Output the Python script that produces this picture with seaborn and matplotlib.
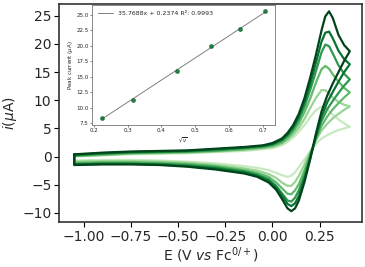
import numpy as np
import pandas as pd
import matplotlib
matplotlib.use("Agg")
import matplotlib.pyplot as plt
import seaborn as sns

# scan rates (V/s) -> sqrt used in the inset
scan_rates = [0.05, 0.1, 0.2, 0.3, 0.4, 0.5]
sqrt_rate = [0.2236, 0.3162, 0.4472, 0.5477, 0.6325, 0.7071]
peak_current = [8.3, 11.3, 16.0, 19.9, 22.7, 25.6]

# forward sweep potentials and currents (uA)
E_fwd = [-1.05, -0.9, -0.75, -0.6, -0.45, -0.3, -0.15, -0.05, 0.0, 0.05, 0.08, 0.11,
         0.14, 0.17, 0.2, 0.23, 0.26, 0.28, 0.30, 0.32, 0.35, 0.38, 0.41]
i_fwd_1 = [0.0, 0.2, 0.4, 0.5, 0.6, 0.8, 1.0, 1.3, 1.5, 2.0, 2.6, 3.4, 4.4, 5.6, 7.0, 8.2, 8.9, 8.7, 8.1, 7.4, 6.6, 5.9, 5.3]
i_fwd_2 = [0.1, 0.3, 0.5, 0.6, 0.7, 0.9, 1.2, 1.5, 1.7, 2.3, 3.0, 3.9, 5.1, 6.7, 8.6, 10.4, 11.8, 11.8, 11.2, 10.5, 9.7, 9.2, 8.9]
i_fwd_3 = [0.1, 0.3, 0.6, 0.7, 0.8, 1.0, 1.3, 1.6, 1.9, 2.5, 3.3, 4.4, 5.9, 7.9, 10.3, 13.1, 15.5, 16.1, 15.6, 14.6, 13.3, 12.2, 11.4]
i_fwd_4 = [0.2, 0.5, 0.7, 0.8, 0.9, 1.1, 1.5, 1.8, 2.1, 2.8, 3.7, 4.9, 6.6, 8.9, 11.8, 15.1, 18.5, 19.9, 19.6, 18.3, 16.2, 14.7, 13.7]
i_fwd_5 = [0.3, 0.6, 0.8, 0.9, 1.0, 1.3, 1.6, 1.9, 2.2, 3.0, 3.9, 5.2, 7.1, 9.7, 12.9, 16.6, 20.4, 22.0, 22.2, 21.0, 18.8, 17.3, 16.4]
i_fwd_6 = [0.4, 0.7, 0.9, 1.0, 1.1, 1.4, 1.7, 2.0, 2.4, 3.2, 4.2, 5.6, 7.6, 10.4, 14.0, 18.0, 22.4, 24.9, 25.8, 24.6, 21.6, 19.8, 18.7]

# reverse sweep
E_rev = [0.41, 0.38, 0.35, 0.32, 0.29, 0.26, 0.23, 0.2, 0.17, 0.14, 0.12, 0.10, 0.08, 0.05,
         0.02, -0.02, -0.08, -0.15, -0.3, -0.45, -0.6, -0.75, -0.9, -1.05]
i_rev_1 = [5.3, 5.0, 4.7, 4.3, 3.8, 3.2, 2.2, 0.9, -0.5, -1.9, -2.8, -3.4, -3.6, -3.3, -2.9, -2.4, -2.0, -1.7, -1.2, -0.9, -0.7, -0.6, -0.6, -0.7]
i_rev_2 = [8.9, 8.3, 7.6, 6.8, 5.8, 4.6, 2.9, 0.8, -1.4, -3.4, -4.5, -5.2, -5.2, -4.6, -3.8, -3.1, -2.5, -2.1, -1.5, -1.1, -0.9, -0.8, -0.8, -0.9]
i_rev_3 = [11.4, 10.5, 9.5, 8.4, 7.1, 5.4, 3.0, 0.4, -2.4, -4.9, -6.0, -6.7, -6.6, -5.6, -4.6, -3.6, -2.9, -2.4, -1.7, -1.3, -1.1, -1.0, -1.0, -1.1]
i_rev_4 = [13.7, 12.6, 11.3, 9.9, 8.4, 6.3, 3.3, 0.0, -3.3, -6.0, -7.3, -8.0, -7.8, -6.5, -5.2, -4.0, -3.2, -2.6, -1.9, -1.5, -1.3, -1.2, -1.2, -1.3]
i_rev_5 = [16.4, 15.0, 13.3, 11.5, 9.6, 7.1, 3.6, -0.3, -4.0, -7.0, -8.3, -8.8, -8.4, -6.9, -5.5, -4.3, -3.4, -2.8, -2.1, -1.7, -1.4, -1.3, -1.3, -1.4]
i_rev_6 = [18.7, 17.0, 15.0, 13.0, 10.8, 8.0, 4.0, -0.5, -4.5, -7.8, -9.2, -9.7, -9.2, -7.5, -5.9, -4.6, -3.6, -3.0, -2.3, -1.8, -1.5, -1.4, -1.4, -1.5]

fwd = [i_fwd_1, i_fwd_2, i_fwd_3, i_fwd_4, i_fwd_5, i_fwd_6]
rev = [i_rev_1, i_rev_2, i_rev_3, i_rev_4, i_rev_5, i_rev_6]

frames = []
for rate, f, r in zip(scan_rates, fwd, rev):
    E = E_fwd + E_rev + [E_fwd[0]]
    cur = f + r + [f[0]]
    frames.append(pd.DataFrame({"E": E, "i": cur, "rate": rate}))
df = pd.concat(frames, ignore_index=True)

sns.set_theme(style="ticks")
plt.rcParams["font.family"] = ["DejaVu Sans"]

fig = plt.figure(figsize=(3.65, 2.67), dpi=100)
ax = fig.add_axes([0.162, 0.169, 0.83, 0.816])

colors = [plt.cm.Greens(v) for v in np.linspace(0.25, 1.0, 6)]
sns.lineplot(data=df, x="E", y="i", hue="rate", palette=colors, sort=False,
             estimator=None, units="rate", lw=1.6, legend=False, ax=ax)

ax.set_xlim(-1.13, 0.475)
ax.set_ylim(-11.6, 27.1)
ax.set_xticks([-1.0, -0.75, -0.5, -0.25, 0.0, 0.25])
ax.set_yticks([-10, -5, 0, 5, 10, 15, 20, 25])
ax.tick_params(labelsize=10, length=3.5, width=0.8, color="black", pad=2)
ax.set_xlabel(r"E (V $\it{vs}$ Fc$^{0/+}$)", fontsize=10, labelpad=1)
ax.set_ylabel(r"$i(\mu$A)", fontsize=10, labelpad=2)
for s in ax.spines.values():
    s.set_color("#333333")
    s.set_linewidth(1.2)

# inset: peak current vs sqrt(scan rate)
ins = fig.add_axes([0.252, 0.532, 0.501, 0.449])
sns.regplot(x=sqrt_rate, y=peak_current, ci=None, ax=ins,
            scatter_kws={"s": 6, "color": "#0b6b30", "zorder": 3},
            line_kws={"color": "grey", "lw": 0.7,
                      "label": "35.7688x + 0.2374 R²: 0.9993"})
ins.set_xlim(0.195, 0.735)
ins.set_ylim(7.2, 26.6)
ins.set_xticks([0.2, 0.3, 0.4, 0.5, 0.6, 0.7])
ins.set_yticks([7.5, 10.0, 12.5, 15.0, 17.5, 20.0, 22.5, 25.0])
ins.tick_params(labelsize=4, length=1.5, width=0.4, pad=1)
ins.set_xlabel(r"$\sqrt{\nu}$", fontsize=4, labelpad=1)
ins.set_ylabel(r"Peak current ($\mu$A)", fontsize=4, labelpad=1)
for s in ins.spines.values():
    s.set_color("#777777")
    s.set_linewidth(0.6)
ins.legend(loc="upper left", fontsize=4.5, frameon=False, handlelength=2.5)

fig.savefig("out.png", dpi=100)
